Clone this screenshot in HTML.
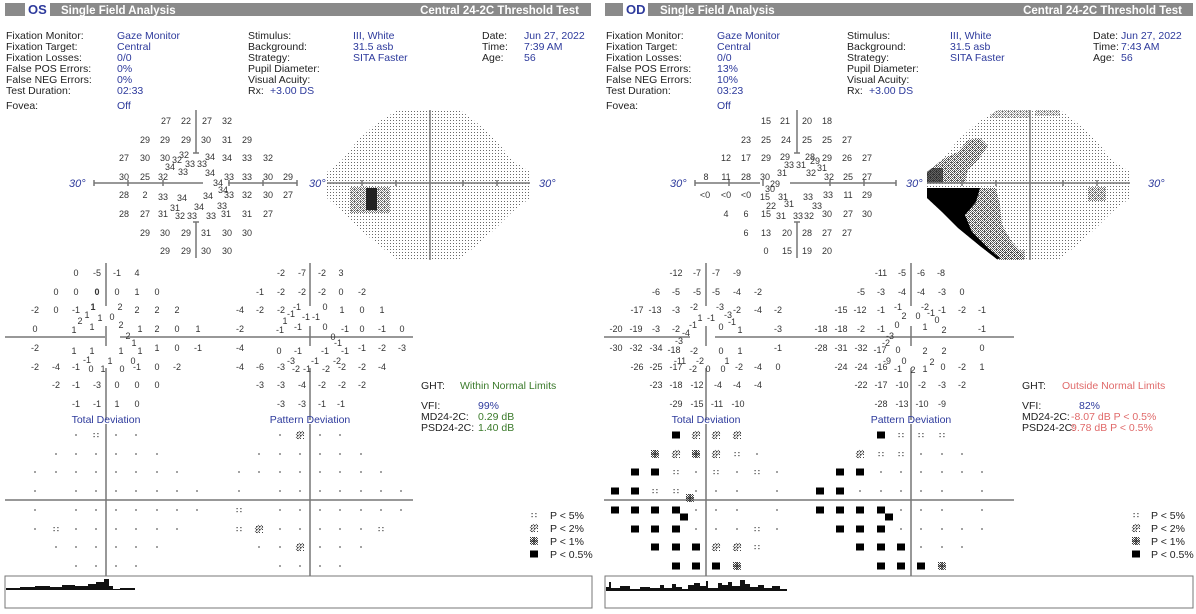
<!DOCTYPE html>
<html><head><meta charset="utf-8"><style>
html,body{margin:0;padding:0;background:#fff}
svg{display:block;font-family:"Liberation Sans",sans-serif}
.l{font-size:10.5px;fill:#222}
.v{font-size:10.5px;fill:#2d3a9c}
.n{font-size:9px;fill:#333;text-anchor:middle}
.s{font-size:8px;fill:#333;text-anchor:middle}
.t{font-size:11px;fill:#2d3a9c;font-style:italic}
.c{font-size:10.5px;fill:#2d3a9c;text-anchor:middle}
.ax{stroke:#777;stroke-width:1.5;fill:none}
.hd{font-size:11.5px;fill:#fff;font-weight:bold}
</style></head><body>
<svg width="1196" height="614" viewBox="0 0 1196 614">
<defs>
<pattern id="pd" width="3" height="3" patternUnits="userSpaceOnUse"><rect width="1" height="1" fill="#444"/></pattern>
<pattern id="pg" width="2" height="2" patternUnits="userSpaceOnUse"><rect width="1" height="1" fill="#333"/><rect x="1" y="1" width="1" height="1" fill="#555"/></pattern>
<g id="d"><rect x="-0.7" y="-0.7" width="1.4" height="1.4" fill="#444"/></g>
<g id="q" fill="#444"><rect x="-2.5" y="-2" width="1.2" height="1.2"/><rect x="1.3" y="-2" width="1.2" height="1.2"/><rect x="-2.5" y="1" width="1.2" height="1.2"/><rect x="1.3" y="1" width="1.2" height="1.2"/></g>
<g id="h"><rect x="-4" y="-4" width="8" height="8" fill="url(#pd)"/><path d="M-4,3 L3,-4 M-2,4 L4,-2 M-4,0 L0,-4" stroke="#555" stroke-width="0.8"/></g>
<g id="k"><rect x="-4" y="-4" width="8" height="8" fill="url(#pg)"/><path d="M-4,0 H4 M0,-4 V4" stroke="#222" stroke-width="1"/></g>
<g id="b"><rect x="-4" y="-3.5" width="8" height="7" fill="#000"/></g>
<clipPath id="cp1"><polygon points="398,110 460,110 476,122 496,140 512,160 530,172 530,198 512,212 496,228 476,246 458,260 398,260 380,246 358,228 342,212 327,198 327,172 342,160 358,140 378,122"/></clipPath>
<clipPath id="cp2"><polygon points="998,110 1060,110 1076,122 1096,140 1112,160 1130,172 1130,198 1112,212 1096,228 1076,246 1058,260 998,260 980,246 958,228 942,212 927,198 927,172 942,160 958,140 978,122"/></clipPath>
</defs>

<!-- ===== LEFT PANEL OS ===== -->
<rect x="5" y="3" width="586" height="13" fill="#8a8a8a"/>
<rect x="25" y="2" width="25" height="15" fill="#fff"/>
<text x="28" y="14" style="font-size:13px;font-weight:bold;fill:#2d3a9c">OS</text>
<text x="61" y="14" class="hd">Single Field Analysis</text>
<text x="579" y="14" class="hd" text-anchor="end">Central 24-2C Threshold Test</text>

<g class="l"><text x="6" y="39">Fixation Monitor:</text><text x="6" y="50">Fixation Target:</text><text x="6" y="61">Fixation Losses:</text><text x="6" y="72">False POS Errors:</text><text x="6" y="83">False NEG Errors:</text><text x="6" y="94">Test Duration:</text><text x="6" y="109">Fovea:</text>
<text x="248" y="39">Stimulus:</text><text x="248" y="50">Background:</text><text x="248" y="61">Strategy:</text><text x="248" y="72">Pupil Diameter:</text><text x="248" y="83">Visual Acuity:</text><text x="248" y="94">Rx:</text>
<text x="482" y="39">Date:</text><text x="482" y="50">Time:</text><text x="482" y="61">Age:</text></g>
<g class="v"><text x="117" y="39">Gaze Monitor</text><text x="117" y="50">Central</text><text x="117" y="61">0/0</text><text x="117" y="72">0%</text><text x="117" y="83">0%</text><text x="117" y="94">02:33</text><text x="117" y="109">Off</text>
<text x="353" y="39">III, White</text><text x="353" y="50">31.5 asb</text><text x="353" y="61">SITA Faster</text><text x="270" y="94">+3.00 DS</text>
<text x="524" y="39">Jun 27, 2022</text><text x="524" y="50">7:39 AM</text><text x="524" y="61">56</text></g>

<path class="ax" d="M94,183 H203 M228,183 H297 M196,110 V153 M196,222 V258 M94,180 V186 M128,180 V186 M163,180 V186 M229,180 V186 M263,180 V186 M297,180 V186 M193,153 H199 M193,222 H199"/>
<text x="69" y="187" class="t">30°</text>
<g class="n">
<text x="166" y="124">27</text><text x="186" y="124">22</text><text x="207" y="124">27</text><text x="227" y="124">32</text>
<text x="145" y="143">29</text><text x="165" y="143">29</text><text x="186" y="143">29</text><text x="206" y="143">30</text><text x="227" y="143">31</text><text x="247" y="143">29</text>
<text x="124" y="161">27</text><text x="145" y="161">30</text><text x="165" y="161">30</text><text x="210" y="160">34</text><text x="227" y="161">34</text><text x="247" y="161">33</text><text x="268" y="161">32</text>
<text x="184" y="158">32</text><text x="177" y="163">32</text><text x="190" y="167">33</text><text x="202" y="167">33</text><text x="170" y="170">34</text><text x="183" y="175">33</text>
<text x="124" y="180">30</text><text x="145" y="180">25</text><text x="163" y="180">32</text><text x="210" y="176">34</text><text x="229" y="180">33</text><text x="247" y="180">33</text><text x="268" y="180">30</text><text x="288" y="180">29</text><text x="218" y="186">34</text>
<text x="124" y="198">28</text><text x="145" y="198">2</text><text x="163" y="200">33</text><text x="182" y="201">34</text><text x="208" y="199">34</text><text x="229" y="198">33</text><text x="247" y="198">32</text><text x="268" y="198">30</text><text x="288" y="198">27</text><text x="223" y="193">34</text>
<text x="124" y="217">28</text><text x="145" y="217">27</text><text x="163" y="217">31</text><text x="180" y="219">32</text><text x="192" y="219">33</text><text x="211" y="219">33</text><text x="226" y="217">31</text><text x="247" y="217">31</text><text x="268" y="217">27</text><text x="175" y="211">31</text><text x="199" y="210">34</text><text x="222" y="209">33</text>
<text x="145" y="236">29</text><text x="165" y="236">30</text><text x="186" y="236">29</text><text x="206" y="236">31</text><text x="227" y="236">30</text><text x="247" y="236">30</text>
<text x="165" y="254">29</text><text x="186" y="254">29</text><text x="206" y="254">30</text><text x="227" y="254">30</text>
</g>
<g clip-path="url(#cp1)"><rect x="320" y="105" width="215" height="160" fill="url(#pd)" opacity="0.8"/>
<rect x="350" y="187" width="40" height="26" fill="url(#pg)" opacity="0.7"/><rect x="366" y="188" width="11" height="22" fill="#222"/></g>
<path class="ax" d="M327,183 H530 M430,110 V260 M362,180 V186 M396,180 V186 M463,180 V186 M497,180 V186" stroke-width="1.2"/>
<text x="309" y="187" class="t">30°</text><text x="539" y="187" class="t">30°</text>

<path class="ax" d="M5,337 H105 M120,337 H413 M106,263 V306 M106,326 V346 M106,368 V420 M310,263 V306 M310,326 V346 M310,368 V420 M5,500 H413 M106,424 V576 M310,424 V576"/>
<g class="n">
<text x="76" y="276">0</text><text x="97" y="276">-5</text><text x="117" y="276">-1</text><text x="137" y="276">4</text>
<text x="56" y="295">0</text><text x="76" y="295">0</text><text x="97" y="295" font-weight="bold">0</text><text x="117" y="295">0</text><text x="137" y="295">1</text><text x="157" y="295">0</text>
<text x="35" y="313">-2</text><text x="56" y="313">0</text><text x="76" y="313">-1</text><text x="93" y="310" font-weight="bold">1</text><text x="120" y="310">2</text><text x="137" y="313">2</text><text x="157" y="313">2</text><text x="177" y="313">2</text>
<text x="87" y="318">1</text><text x="100" y="321">1</text><text x="112" y="320">0</text><text x="80" y="324">2</text>
<text x="35" y="332">0</text><text x="74" y="333">1</text><text x="92" y="330">1</text><text x="121" y="328">2</text><text x="140" y="332">1</text><text x="157" y="332">2</text><text x="177" y="332">0</text><text x="198" y="332">1</text><text x="128" y="339">2</text><text x="134" y="346">1</text>
<text x="35" y="351">-2</text><text x="74" y="354">1</text><text x="92" y="354">1</text><text x="121" y="354">1</text><text x="140" y="354">1</text><text x="157" y="351">1</text><text x="177" y="351">0</text><text x="198" y="351">-1</text>
<text x="87" y="363">-1</text><text x="110" y="364">1</text><text x="133" y="364">0</text>
<text x="35" y="370">-2</text><text x="56" y="370">-4</text><text x="76" y="370">-1</text><text x="91" y="372">0</text><text x="103" y="372">1</text><text x="122" y="372">0</text><text x="137" y="370">-1</text><text x="157" y="370">0</text><text x="177" y="370">-2</text>
<text x="56" y="388">-2</text><text x="76" y="388">-1</text><text x="97" y="388">-3</text><text x="117" y="388">0</text><text x="137" y="388">0</text><text x="157" y="388">0</text>
<text x="76" y="407">-1</text><text x="97" y="407">-1</text><text x="117" y="407">1</text><text x="137" y="407">0</text>

<text x="281" y="276">-2</text><text x="302" y="276">-7</text><text x="322" y="276">-2</text><text x="341" y="276">3</text>
<text x="260" y="295">-1</text><text x="281" y="295">-2</text><text x="302" y="295">-2</text><text x="322" y="295">-2</text><text x="341" y="295">0</text><text x="362" y="295">-2</text>
<text x="240" y="313">-4</text><text x="260" y="313">-2</text><text x="281" y="313">-2</text><text x="297" y="310">-1</text><text x="325" y="310">0</text><text x="342" y="313">1</text><text x="362" y="313">0</text><text x="382" y="313">1</text>
<text x="291" y="317">-1</text><text x="306" y="320">-1</text><text x="316" y="320">-1</text><text x="285" y="324">1</text>
<text x="240" y="332">-2</text><text x="280" y="333">-1</text><text x="298" y="330">-1</text><text x="325" y="330">0</text><text x="345" y="332">-1</text><text x="362" y="332">0</text><text x="382" y="332">-1</text><text x="402" y="332">0</text><text x="333" y="340">0</text><text x="338" y="346">-1</text>
<text x="240" y="351">-4</text><text x="279" y="354">0</text><text x="298" y="354">-1</text><text x="325" y="354">-1</text><text x="345" y="354">-1</text><text x="362" y="351">-1</text><text x="382" y="351">-2</text><text x="402" y="351">-3</text>
<text x="291" y="364">-3</text><text x="315" y="364">-1</text><text x="337" y="364">-2</text>
<text x="240" y="370">-4</text><text x="260" y="370">-6</text><text x="281" y="370">-3</text><text x="296" y="372">-2</text><text x="307" y="372">-1</text><text x="326" y="372">-2</text><text x="342" y="370">-2</text><text x="362" y="370">-2</text><text x="382" y="370">-4</text>
<text x="260" y="388">-3</text><text x="281" y="388">-3</text><text x="302" y="388">-4</text><text x="322" y="388">-2</text><text x="342" y="388">-2</text><text x="362" y="388">-2</text>
<text x="281" y="407">-3</text><text x="302" y="407">-3</text><text x="322" y="407">-1</text><text x="341" y="407">-1</text>
</g>
<text x="106" y="423" class="c">Total Deviation</text><text x="310" y="423" class="c">Pattern Deviation</text>

<text x="421" y="389" class="l">GHT:</text><text x="460" y="389" class="l" style="fill:#3a7a2a">Within Normal Limits</text>
<text x="421" y="409" class="l">VFI:</text><text x="478" y="409" class="v">99%</text>
<text x="421" y="420" class="l">MD24-2C:</text><text x="478" y="420" class="l" style="fill:#3a7a2a">0.29 dB</text>
<text x="421" y="431" class="l">PSD24-2C:</text><text x="478" y="431" class="l" style="fill:#3a7a2a">1.40 dB</text>

<use href="#d" x="76" y="435"/><use href="#q" x="96" y="435"/><use href="#d" x="116" y="435"/><use href="#d" x="136" y="435"/>
<use href="#d" x="56" y="454"/><use href="#d" x="76" y="454"/><use href="#d" x="96" y="454"/><use href="#d" x="116" y="454"/><use href="#d" x="136" y="454"/><use href="#d" x="157" y="454"/>
<use href="#d" x="35" y="472"/><use href="#d" x="56" y="472"/><use href="#d" x="76" y="472"/><use href="#d" x="96" y="472"/><use href="#d" x="116" y="472"/><use href="#d" x="136" y="472"/><use href="#d" x="157" y="472"/><use href="#d" x="177" y="472"/>
<use href="#d" x="35" y="491"/><use href="#d" x="76" y="491"/><use href="#d" x="96" y="491"/><use href="#d" x="116" y="491"/><use href="#d" x="136" y="491"/><use href="#d" x="157" y="491"/><use href="#d" x="177" y="491"/><use href="#d" x="197" y="491"/>
<use href="#d" x="35" y="510"/><use href="#d" x="76" y="510"/><use href="#d" x="96" y="510"/><use href="#d" x="116" y="510"/><use href="#d" x="136" y="510"/><use href="#d" x="157" y="510"/><use href="#d" x="177" y="510"/><use href="#d" x="197" y="510"/>
<use href="#d" x="35" y="529"/><use href="#q" x="56" y="529"/><use href="#d" x="76" y="529"/><use href="#d" x="96" y="529"/><use href="#d" x="116" y="529"/><use href="#d" x="136" y="529"/><use href="#d" x="157" y="529"/><use href="#d" x="177" y="529"/>
<use href="#d" x="56" y="547"/><use href="#d" x="76" y="547"/><use href="#d" x="96" y="547"/><use href="#d" x="116" y="547"/><use href="#d" x="136" y="547"/><use href="#d" x="157" y="547"/>
<use href="#d" x="76" y="566"/><use href="#d" x="96" y="566"/><use href="#d" x="116" y="566"/><use href="#d" x="136" y="566"/>
<use href="#d" x="280" y="435"/><use href="#h" x="300" y="435"/><use href="#d" x="320" y="435"/><use href="#d" x="340" y="435"/>
<use href="#d" x="259" y="454"/><use href="#d" x="280" y="454"/><use href="#d" x="300" y="454"/><use href="#d" x="320" y="454"/><use href="#d" x="340" y="454"/><use href="#d" x="361" y="454"/>
<use href="#d" x="239" y="472"/><use href="#d" x="259" y="472"/><use href="#d" x="280" y="472"/><use href="#d" x="300" y="472"/><use href="#d" x="320" y="472"/><use href="#d" x="340" y="472"/><use href="#d" x="361" y="472"/><use href="#d" x="381" y="472"/>
<use href="#d" x="239" y="491"/><use href="#d" x="280" y="491"/><use href="#d" x="300" y="491"/><use href="#d" x="320" y="491"/><use href="#d" x="340" y="491"/><use href="#d" x="361" y="491"/><use href="#d" x="381" y="491"/><use href="#d" x="401" y="491"/>
<use href="#q" x="239" y="510"/><use href="#d" x="280" y="510"/><use href="#d" x="300" y="510"/><use href="#d" x="320" y="510"/><use href="#d" x="340" y="510"/><use href="#d" x="361" y="510"/><use href="#d" x="381" y="510"/><use href="#d" x="401" y="510"/>
<use href="#q" x="239" y="529"/><use href="#h" x="259" y="529"/><use href="#d" x="280" y="529"/><use href="#d" x="300" y="529"/><use href="#d" x="320" y="529"/><use href="#d" x="340" y="529"/><use href="#d" x="361" y="529"/><use href="#q" x="381" y="529"/>
<use href="#d" x="259" y="547"/><use href="#d" x="280" y="547"/><use href="#h" x="300" y="547"/><use href="#d" x="320" y="547"/><use href="#d" x="340" y="547"/><use href="#d" x="361" y="547"/>
<use href="#d" x="280" y="566"/><use href="#d" x="300" y="566"/><use href="#d" x="320" y="566"/><use href="#d" x="340" y="566"/>
<use href="#q" x="534" y="515"/><use href="#h" x="534" y="528"/><use href="#k" x="534" y="541"/><use href="#b" x="534" y="554"/>
<g class="l"><text x="550" y="519">P &lt; 5%</text><text x="550" y="532">P &lt; 2%</text><text x="550" y="545">P &lt; 1%</text><text x="550" y="558">P &lt; 0.5%</text></g>
<rect x="5" y="576" width="587" height="32" fill="none" stroke="#777" stroke-width="1"/>
<polygon points="6,590 6,588 20,588 20,587 35,587 35,586 50,586 50,587 62,587 62,585 75,585 75,586 88,586 88,584 96,584 96,582 104,582 104,579 109,579 109,586 113,586 113,589 120,589 120,588 135,588 135,590" fill="#111"/>

<!-- ===== RIGHT PANEL OD ===== -->
<rect x="605" y="3" width="588" height="13" fill="#8a8a8a"/>
<rect x="623" y="2" width="25" height="15" fill="#fff"/>
<text x="626" y="14" style="font-size:13px;font-weight:bold;fill:#2d3a9c">OD</text>
<text x="660" y="14" class="hd">Single Field Analysis</text>
<text x="1182" y="14" class="hd" text-anchor="end">Central 24-2C Threshold Test</text>
<g class="l"><text x="606" y="39">Fixation Monitor:</text><text x="606" y="50">Fixation Target:</text><text x="606" y="61">Fixation Losses:</text><text x="606" y="72">False POS Errors:</text><text x="606" y="83">False NEG Errors:</text><text x="606" y="94">Test Duration:</text><text x="606" y="109">Fovea:</text>
<text x="847" y="39">Stimulus:</text><text x="847" y="50">Background:</text><text x="847" y="61">Strategy:</text><text x="847" y="72">Pupil Diameter:</text><text x="847" y="83">Visual Acuity:</text><text x="847" y="94">Rx:</text>
<text x="1093" y="39">Date:</text><text x="1093" y="50">Time:</text><text x="1093" y="61">Age:</text></g>
<g class="v"><text x="717" y="39">Gaze Monitor</text><text x="717" y="50">Central</text><text x="717" y="61">0/0</text><text x="717" y="72">13%</text><text x="717" y="83">10%</text><text x="717" y="94">03:23</text><text x="717" y="109">Off</text>
<text x="950" y="39">III, White</text><text x="950" y="50">31.5 asb</text><text x="950" y="61">SITA Faster</text><text x="869" y="94">+3.00 DS</text>
<text x="1121" y="39">Jun 27, 2022</text><text x="1121" y="50">7:43 AM</text><text x="1121" y="61">56</text></g>

<path class="ax" d="M695,183 H760 M790,183 H896 M797,110 V153 M797,222 V258 M695,180 V186 M729,180 V186 M763,180 V186 M830,180 V186 M864,180 V186 M896,180 V186 M794,153 H800 M794,222 H800"/>
<text x="670" y="187" class="t">30°</text>
<g class="n">
<text x="766" y="124">15</text><text x="785" y="124">21</text><text x="807" y="124">20</text><text x="827" y="124">18</text>
<text x="746" y="143">23</text><text x="766" y="143">25</text><text x="786" y="143">24</text><text x="807" y="143">25</text><text x="827" y="143">25</text><text x="847" y="143">27</text>
<text x="726" y="161">12</text><text x="746" y="161">17</text><text x="766" y="161">29</text><text x="785" y="160">29</text><text x="810" y="160">28</text><text x="827" y="161">29</text><text x="847" y="161">26</text><text x="867" y="161">27</text>
<text x="789" y="168">33</text><text x="801" y="168">31</text><text x="815" y="164">29</text><text x="822" y="171">31</text><text x="782" y="176">31</text>
<text x="706" y="180">8</text><text x="726" y="180">11</text><text x="746" y="180">28</text><text x="765" y="180">30</text><text x="775" y="187">29</text><text x="811" y="176">32</text><text x="829" y="180">32</text><text x="848" y="180">25</text><text x="867" y="180">27</text>
<text x="705" y="198">&lt;0</text><text x="726" y="198">&lt;0</text><text x="746" y="198">&lt;0</text><text x="770" y="192">30</text><text x="765" y="200">15</text><text x="783" y="200">31</text><text x="808" y="200">33</text><text x="828" y="198">33</text><text x="848" y="198">11</text><text x="867" y="198">29</text>
<text x="771" y="209">22</text><text x="789" y="207">31</text><text x="817" y="209">33</text>
<text x="726" y="217">4</text><text x="746" y="217">6</text><text x="766" y="217">15</text><text x="781" y="219">31</text><text x="798" y="219">33</text><text x="809" y="219">32</text><text x="827" y="217">30</text><text x="848" y="217">27</text><text x="867" y="217">30</text>
<text x="746" y="236">6</text><text x="766" y="236">13</text><text x="787" y="236">20</text><text x="807" y="236">28</text><text x="827" y="236">27</text><text x="847" y="236">27</text>
<text x="766" y="254">0</text><text x="787" y="254">15</text><text x="807" y="254">19</text><text x="827" y="254">20</text>
</g>
<g clip-path="url(#cp2)"><rect x="920" y="105" width="215" height="160" fill="url(#pd)" opacity="0.8"/>
<polygon points="927,168 927,183 965,183 968,170 978,160 988,146 980,138 968,140 958,152 945,158" fill="url(#pg)" opacity="0.85"/>
<rect x="927" y="168" width="16" height="15" fill="#222" opacity="0.7"/>
<rect x="990" y="108" width="40" height="10" fill="url(#pg)" opacity="0.5"/><rect x="1035" y="108" width="25" height="8" fill="url(#pg)" opacity="0.5"/>
<polygon points="978,188 996,188 1000,205 1002,225 1012,242 1025,256 1020,262 995,262 975,245 962,225" fill="url(#pg)" opacity="0.85"/>
<polygon points="927,188 980,188 976,202 965,215 972,232 988,248 1000,258 990,262 975,252 960,240 950,226 938,212 927,200" fill="#000"/>
<rect x="1000" y="250" width="25" height="10" fill="url(#pg)" opacity="0.6"/>
<rect x="1088" y="187" width="18" height="14" fill="url(#pg)" opacity="0.7"/></g>
<path class="ax" d="M927,183 H1130 M1030,110 V260 M962,180 V186 M996,180 V186 M1063,180 V186 M1097,180 V186" stroke-width="1.2"/>
<text x="906" y="187" class="t">30°</text><text x="1148" y="187" class="t">30°</text>

<path class="ax" d="M604,337 H690 M715,337 H1014 M706,263 V306 M706,326 V346 M706,368 V420 M911,263 V306 M911,326 V346 M911,368 V420 M604,500 H1014 M706,424 V576 M911,424 V576"/>
<g class="n">
<text x="676" y="276">-12</text><text x="697" y="276">-7</text><text x="716" y="276">-7</text><text x="737" y="276">-9</text>
<text x="656" y="295">-6</text><text x="676" y="295">-5</text><text x="697" y="295">-5</text><text x="716" y="295">-5</text><text x="737" y="295">-4</text><text x="758" y="295">-2</text>
<text x="637" y="313">-17</text><text x="655" y="313">-13</text><text x="676" y="313">-3</text><text x="694" y="310">-2</text><text x="720" y="310">-3</text><text x="737" y="313">-2</text><text x="758" y="313">-4</text><text x="778" y="313">-2</text><text x="728" y="318">-3</text>
<text x="700" y="321">1</text><text x="711" y="321">-1</text><text x="693" y="328">-1</text><text x="732" y="325">-1</text>
<text x="616" y="332">-20</text><text x="636" y="332">-19</text><text x="656" y="332">-3</text><text x="676" y="332">-2</text><text x="721" y="330">0</text><text x="740" y="333">1</text><text x="778" y="332">-3</text><text x="686" y="336">-4</text>
<text x="679" y="344">-3</text>
<text x="616" y="351">-30</text><text x="636" y="351">-32</text><text x="656" y="351">-34</text><text x="674" y="353">-18</text><text x="694" y="354">-2</text><text x="721" y="354">0</text><text x="740" y="354">1</text><text x="778" y="351">-1</text>
<text x="680" y="364">-11</text><text x="700" y="364">-2</text><text x="727" y="364">1</text>
<text x="637" y="370">-26</text><text x="656" y="370">-25</text><text x="676" y="370">-17</text><text x="693" y="372">-2</text><text x="708" y="372">0</text><text x="723" y="372">0</text><text x="739" y="370">-2</text><text x="758" y="370">-4</text><text x="778" y="370">0</text>
<text x="656" y="388">-23</text><text x="676" y="388">-18</text><text x="697" y="388">-12</text><text x="718" y="388">-4</text><text x="737" y="388">-4</text><text x="758" y="388">-4</text>
<text x="676" y="407">-29</text><text x="697" y="407">-15</text><text x="717" y="407">-11</text><text x="738" y="407">-10</text>

<text x="881" y="276">-11</text><text x="902" y="276">-5</text><text x="921" y="276">-6</text><text x="941" y="276">-8</text>
<text x="861" y="295">-5</text><text x="881" y="295">-3</text><text x="902" y="295">-4</text><text x="921" y="295">-4</text><text x="942" y="295">-3</text><text x="962" y="295">0</text>
<text x="841" y="313">-15</text><text x="860" y="313">-12</text><text x="881" y="313">-1</text><text x="898" y="310">-1</text><text x="925" y="310">-2</text><text x="942" y="313">-1</text><text x="962" y="313">-2</text><text x="982" y="313">-1</text>
<text x="904" y="319">2</text><text x="918" y="319">0</text><text x="931" y="316">-1</text><text x="937" y="323">0</text>
<text x="821" y="332">-18</text><text x="841" y="332">-18</text><text x="861" y="332">-2</text><text x="881" y="332">-1</text><text x="897" y="328">0</text><text x="925" y="330">1</text><text x="944" y="333">2</text><text x="982" y="332">-1</text>
<text x="890" y="339">-3</text><text x="886" y="346">-2</text>
<text x="821" y="351">-28</text><text x="841" y="351">-31</text><text x="861" y="351">-32</text><text x="880" y="353">-17</text><text x="898" y="353">0</text><text x="925" y="354">2</text><text x="944" y="354">2</text><text x="982" y="351">0</text>
<text x="887" y="364">-9</text><text x="904" y="364">0</text><text x="932" y="365">2</text>
<text x="841" y="370">-24</text><text x="861" y="370">-24</text><text x="881" y="370">-16</text><text x="898" y="372">-1</text><text x="913" y="373">2</text><text x="925" y="372">1</text><text x="943" y="370">0</text><text x="962" y="370">-2</text><text x="982" y="370">1</text>
<text x="861" y="388">-22</text><text x="881" y="388">-17</text><text x="902" y="388">-10</text><text x="922" y="388">-2</text><text x="942" y="388">-3</text><text x="962" y="388">-2</text>
<text x="881" y="407">-28</text><text x="902" y="407">-13</text><text x="922" y="407">-10</text><text x="942" y="407">-9</text>
</g>
<text x="706" y="423" class="c">Total Deviation</text><text x="911" y="423" class="c">Pattern Deviation</text>

<text x="1022" y="389" class="l">GHT:</text><text x="1062" y="389" class="l" style="fill:#e06a6a">Outside Normal Limits</text>
<text x="1022" y="409" class="l">VFI:</text><text x="1079" y="409" class="v">82%</text>
<text x="1022" y="420" class="l">MD24-2C:</text><text x="1071" y="420" class="l" style="fill:#e06a6a">-8.07 dB P &lt; 0.5%</text>
<text x="1022" y="431" class="l">PSD24-2C:</text><text x="1071" y="431" class="l" style="fill:#e06a6a">9.78 dB P &lt; 0.5%</text>

<use href="#b" x="676" y="435"/><use href="#h" x="696" y="435"/><use href="#h" x="716" y="435"/><use href="#h" x="737" y="435"/>
<use href="#k" x="655" y="454"/><use href="#h" x="676" y="454"/><use href="#k" x="696" y="454"/><use href="#h" x="716" y="454"/><use href="#q" x="737" y="454"/><use href="#d" x="757" y="454"/>
<use href="#b" x="635" y="472"/><use href="#b" x="655" y="472"/><use href="#q" x="676" y="472"/><use href="#d" x="696" y="472"/><use href="#q" x="716" y="472"/><use href="#d" x="737" y="472"/><use href="#q" x="757" y="472"/><use href="#d" x="777" y="472"/>
<use href="#b" x="615" y="491"/><use href="#b" x="635" y="491"/><use href="#q" x="655" y="491"/><use href="#q" x="676" y="491"/><use href="#k" x="690" y="498"/><use href="#d" x="696" y="491"/><use href="#d" x="716" y="491"/><use href="#d" x="737" y="491"/><use href="#d" x="777" y="491"/>
<use href="#b" x="615" y="510"/><use href="#b" x="635" y="510"/><use href="#b" x="655" y="510"/><use href="#b" x="676" y="510"/><use href="#b" x="684" y="517"/><use href="#d" x="696" y="510"/><use href="#d" x="716" y="510"/><use href="#d" x="737" y="510"/><use href="#d" x="777" y="510"/>
<use href="#b" x="635" y="529"/><use href="#b" x="655" y="529"/><use href="#b" x="676" y="529"/><use href="#d" x="696" y="529"/><use href="#d" x="716" y="529"/><use href="#d" x="737" y="529"/><use href="#q" x="757" y="529"/><use href="#d" x="777" y="529"/>
<use href="#b" x="655" y="547"/><use href="#b" x="676" y="547"/><use href="#b" x="696" y="547"/><use href="#h" x="716" y="547"/><use href="#h" x="737" y="547"/><use href="#q" x="757" y="547"/>
<use href="#b" x="676" y="566"/><use href="#b" x="696" y="566"/><use href="#b" x="716" y="566"/><use href="#k" x="737" y="566"/>
<use href="#b" x="881" y="435"/><use href="#q" x="901" y="435"/><use href="#q" x="921" y="435"/><use href="#q" x="942" y="435"/>
<use href="#h" x="860" y="454"/><use href="#q" x="881" y="454"/><use href="#q" x="901" y="454"/><use href="#d" x="921" y="454"/><use href="#d" x="942" y="454"/><use href="#d" x="962" y="454"/>
<use href="#b" x="840" y="472"/><use href="#b" x="860" y="472"/><use href="#d" x="881" y="472"/><use href="#d" x="901" y="472"/><use href="#d" x="921" y="472"/><use href="#d" x="942" y="472"/><use href="#d" x="962" y="472"/><use href="#d" x="982" y="472"/>
<use href="#b" x="820" y="491"/><use href="#b" x="840" y="491"/><use href="#d" x="860" y="491"/><use href="#d" x="881" y="491"/><use href="#d" x="901" y="491"/><use href="#d" x="921" y="491"/><use href="#d" x="942" y="491"/><use href="#d" x="982" y="491"/>
<use href="#b" x="820" y="510"/><use href="#b" x="840" y="510"/><use href="#b" x="860" y="510"/><use href="#b" x="881" y="510"/><use href="#b" x="889" y="517"/><use href="#d" x="901" y="510"/><use href="#d" x="921" y="510"/><use href="#d" x="942" y="510"/><use href="#d" x="982" y="510"/>
<use href="#b" x="840" y="529"/><use href="#b" x="860" y="529"/><use href="#b" x="881" y="529"/><use href="#d" x="901" y="529"/><use href="#d" x="921" y="529"/><use href="#d" x="942" y="529"/><use href="#d" x="962" y="529"/><use href="#d" x="982" y="529"/>
<use href="#b" x="860" y="547"/><use href="#b" x="881" y="547"/><use href="#b" x="901" y="547"/><use href="#d" x="921" y="547"/><use href="#d" x="942" y="547"/><use href="#d" x="962" y="547"/>
<use href="#b" x="881" y="566"/><use href="#b" x="901" y="566"/><use href="#b" x="921" y="566"/><use href="#k" x="942" y="566"/>
<use href="#q" x="1136" y="515"/><use href="#h" x="1136" y="528"/><use href="#k" x="1136" y="541"/><use href="#b" x="1136" y="554"/>
<g class="l"><text x="1151" y="519">P &lt; 5%</text><text x="1151" y="532">P &lt; 2%</text><text x="1151" y="545">P &lt; 1%</text><text x="1151" y="558">P &lt; 0.5%</text></g>
<rect x="605" y="576" width="588" height="32" fill="none" stroke="#777" stroke-width="1"/>
<polygon points="606,591 606,587 609,587 609,582 611,582 611,588 620,588 620,586 630,586 630,589 640,589 640,587 650,587 650,588 660,588 660,585 664,585 664,588 672,588 672,584 676,584 676,587 682,587 682,589 688,589 688,585 694,585 694,583 700,583 700,586 706,586 706,581 708,581 708,588 718,588 718,583 722,583 722,585 728,585 728,582 732,582 732,586 740,586 740,580 745,580 745,584 750,584 750,587 758,587 758,585 764,585 764,588 772,588 772,586 780,586 780,589 787,589 787,591" fill="#111"/>
</svg>
</body></html>
